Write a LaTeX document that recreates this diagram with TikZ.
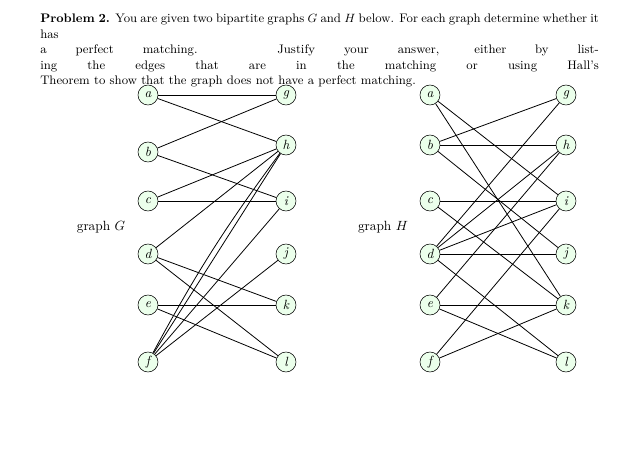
\documentclass[tikz,border=0pt]{standalone}
\begin{document}
\begin{tikzpicture}[x=0.75pt,y=-0.75pt,
  vtx/.style={circle,draw,fill=green!8,minimum size=15pt,inner sep=0pt,font=\itshape},
  edge/.style={draw,line width=0.6pt}]
\useasboundingbox (0,0) rectangle (644,449);
\node[anchor=north west,text width=419pt,align=justify,inner sep=0pt,font=\fontsize{9.3}{11.6}\selectfont] (txt) at (40,14)
 {\textbf{Problem 2.} You are given two bipartite graphs $G$ and $H$ below. For each graph determine whether it has\linebreak a perfect matching. Justify your answer, either by listing the edges that are in the matching or using Hall's\linebreak Theorem to show that the graph does not have a perfect matching.};
\node (lg) at (101,227) {graph $G$};
\node (lh) at (383,227) {graph $H$};
% graph G
\foreach \n/\y in {a/95,b/152,c/201,d/254,e/305,f/362} \node[vtx] (G\n) at (148,\y) {\n};
\foreach \n/\y in {g/95,h/145,i/201,j/254,k/305,l/362} \node[vtx] (G\n) at (286,\y) {\n};
\foreach \u/\v in {a/g,a/h,b/g,b/i,c/h,c/i,d/h,d/k,d/l,e/k,e/l,f/h,f/i,f/j}
  \draw[edge] (G\u) -- (G\v);
\draw[edge] (Gf) to[bend left=4] (Gh);
% graph H
\foreach \n/\y in {a/95,b/145,c/201,d/254,e/305,f/362} \node[vtx] (H\n) at (430,\y) {\n};
\foreach \n/\y in {g/95,h/145,i/201,j/254,k/305,l/362} \node[vtx] (H\n) at (566,\y) {\n};
\foreach \u/\v in {a/i,a/k,b/g,b/h,b/j,c/i,c/k,d/g,d/h,d/i,d/j,d/l,e/h,e/k,e/l,f/i,f/k}
  \draw[edge] (H\u) -- (H\v);
\end{tikzpicture}
\end{document}
